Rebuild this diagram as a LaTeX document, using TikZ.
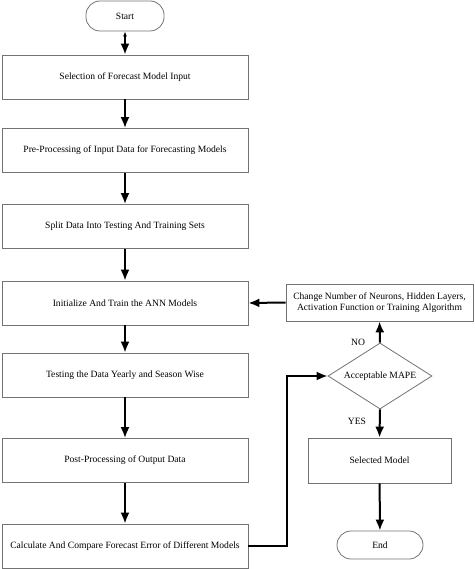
\documentclass[tikz,border=0pt]{standalone}
\usepackage{fontspec}
\setmainfont{Liberation Serif}
\usetikzlibrary{shapes.geometric,arrows.meta}
\begin{document}
\begin{tikzpicture}[x=1pt,y=-1pt,
  box/.style={draw=black!55,line width=0.8pt,minimum width=246pt,minimum height=44pt,inner sep=0pt,font=\fontsize{9.6}{11.5}\selectfont},
  sidebox/.style={draw=black!55,line width=0.8pt,inner sep=0pt,align=center,font=\fontsize{9.6}{11.5}\selectfont},
  term/.style={draw=black!55,line width=0.8pt,rounded corners=14pt,inner sep=0pt,font=\fontsize{9.6}{11.5}\selectfont},
  dec/.style={draw=black!55,line width=0.8pt,diamond,aspect=1.58,inner sep=0pt,minimum width=104pt,minimum height=66pt,font=\fontsize{9.6}{11.5}\selectfont},
  arr/.style={line width=2pt,-{Latex[length=11pt,width=9pt]}},
  lbl/.style={font=\fontsize{9.6}{11.5}\selectfont}]
\useasboundingbox (0,0) rectangle (474,569);
\node[term,minimum width=78pt,minimum height=30pt] (start) at (125,16) {Start};
\node[box] (b1) at (125,77) {Selection of Forecast Model Input};
\node[box] (b2) at (125,150.5) {Pre-Processing of Input Data for Forecasting Models};
\node[box] (b3) at (125,226.5) {Split Data Into Testing And Training Sets};
\node[box] (b4) at (125,303) {Initialize And Train the ANN Models};
\node[box] (b5) at (125,375) {Testing the Data Yearly and Season Wise};
\node[box] (b6) at (125,460.5) {Post-Processing of Output Data};
\node[box] (b7) at (125,546) {Calculate And Compare Forecast Error of Different Models};
\node[sidebox,minimum width=187pt,minimum height=37pt] (chg) at (379.5,302.5) {Change Number of Neurons, Hidden Layers,\\Activation Function or Training Algorithm};
\node[dec] (acc) at (380,376) {Acceptable MAPE};
\node[sidebox,minimum width=143pt,minimum height=45pt] (sel) at (379.5,460.5) {Selected Model};
\node[term,minimum width=86pt,minimum height=28pt] (end) at (380,545) {End};
\coordinate (bend1) at (287,546);
\coordinate (bend2) at (287,376);
\draw[line width=2pt,{Latex[length=5pt,width=4pt]}-{Latex[length=11pt,width=9pt]}] (start) -- (b1);
\draw[arr] (b1) -- (b2);
\draw[arr] (b2) -- (b3);
\draw[arr] (b3) -- (b4);
\draw[arr] (b4) -- (b5);
\draw[arr] (b5) -- (b6);
\draw[arr] (b6) -- (b7);
\draw[arr] (b7.east) -- (bend1) -- (bend2) -- (acc.west);
\draw[arr] (acc.north) -- (chg.south);
\draw[arr] (chg.west) -- (b4.east);
\draw[arr] (acc.south) -- (sel.north);
\draw[arr] (sel) -- (end);
\node[lbl] (no) at (358,342) {NO};
\node[lbl] (yes) at (357,421) {YES};
\end{tikzpicture}
\end{document}
